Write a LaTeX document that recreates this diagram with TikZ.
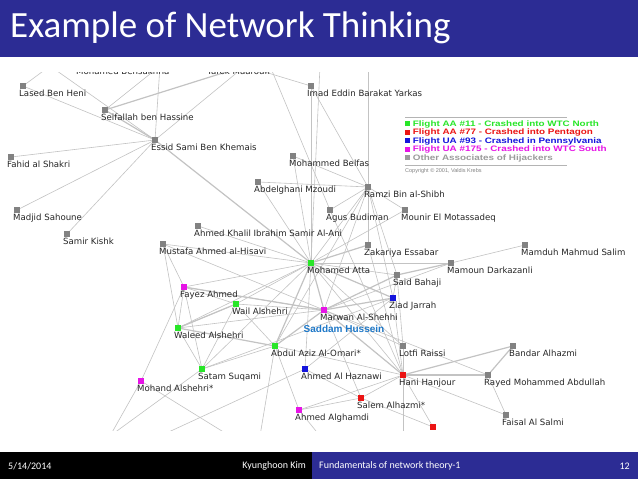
\documentclass[tikz,border=0pt]{standalone}
\usepackage{fontspec}
\setmainfont{Carlito}
\newfontfamily\vfont{DejaVu Sans}
\newfontfamily\lfont{Liberation Sans}
\newfontfamily\legfont[FakeStretch=1.25]{Liberation Sans}
\definecolor{slideblue}{RGB}{44,44,148}
\definecolor{gn}{RGB}{40,230,40}
\definecolor{rd}{RGB}{235,20,20}
\definecolor{bl}{RGB}{20,20,220}
\definecolor{mg}{RGB}{230,20,230}
\definecolor{gy}{RGB}{130,130,130}
\definecolor{edgegray}{RGB}{195,195,195}
\tikzset{
 sq/.style={rectangle,minimum size=6.5pt,inner sep=0pt,draw=none},
 lab/.style={font=\vfont\fontsize{8.6}{9}\selectfont,inner sep=0pt,anchor=north west,text=black!85},
 ed/.style={draw=edgegray,line width=0.6pt},
 edt/.style={draw=edgegray,line width=1.2pt},
 legt/.style={font=\legfont\bfseries\fontsize{7.9}{8}\selectfont,inner sep=0pt,anchor=west},
 foot/.style={text=white,font=\fontsize{10}{11}\selectfont,inner sep=0pt},
}
\newcommand{\hc}[3]{\coordinate (#1) at (#2,#3);}
\newcommand{\hn}[5]{\node[sq,fill=#4] (#1n) at (#2,#3) {};\node[lab] (#1-l) at (#2-4,#3+4) {#5};}
\begin{document}
\begin{tikzpicture}[x=1pt,y=-1pt]
\useasboundingbox (0,0) rectangle (638,479);
\fill[white] (0,0) rectangle (638,479);
% title
\fill[slideblue] (0,0) rectangle (638,57);
\node[anchor=west,text=white,font=\fontsize{37}{40}\selectfont,inner sep=0pt] (title) at (10,28) {Example of Network Thinking};
% footer
\fill[black] (0,452) rectangle (312,479);
\fill[slideblue] (312,452) rectangle (638,479);
\node[foot,anchor=west] (date) at (8,466) {5/14/2014};
\node[foot,anchor=east] (auth) at (306,466) {Kyunghoon Kim};
\node[foot,anchor=west] (course) at (319,466) {Fundamentals of network theory-1};
\node[foot,anchor=east] (pg) at (630,466) {12};
% network
\begin{scope}
\clip (0,72) rectangle (638,430);
\hc{ben}{160}{66}\hc{tar}{245}{66}\hc{t1}{50}{66}\hc{t2}{368}{66}\hc{t3}{320}{66}\hc{t4}{270}{66}
\hc{b1}{230}{436}\hc{b2}{160}{436}\hc{b3}{403}{436}\hc{b4}{260}{436}\hc{b5}{320}{436}\hc{b6}{110}{436}
\hc{lased}{23}{86}\hc{seif}{105}{110}\hc{essid}{155}{140}\hc{fahid}{11}{157}\hc{madjid}{17}{210}
\hc{samir}{67}{234}\hc{khalil}{198}{226}\hc{mustafa}{163}{244}\hc{abdel}{258}{182}\hc{belfas}{293}{156}
\hc{imad}{311}{86}\hc{ramzi}{368}{187}\hc{agus}{330}{210}\hc{mounir}{405}{210}\hc{zak}{368}{245}
\hc{mamduh}{525}{245}\hc{atta}{311}{263}\hc{mamoun}{451}{263}\hc{said}{397}{275}\hc{fayez}{184}{287}
\hc{ziad}{393}{298}\hc{wail}{236}{304}\hc{marwan}{324}{310}\hc{waleed}{178}{328}\hc{abdul}{275}{346}
\hc{lotfi}{403}{346}\hc{bandar}{513}{346}\hc{satam}{202}{369}\hc{haznawi}{305}{369}\hc{hani}{403}{375}
\hc{rayed}{488}{375}\hc{mohand}{141}{381}\hc{salem}{361}{398}\hc{alghamdi}{299}{410}\hc{faisal}{506}{415}
\hc{nawaf}{433}{427}
\foreach \a/\b in {essid/lased,essid/fahid,essid/madjid,essid/samir,essid/ben,essid/tar,essid/t1,lased/t1,seif/ben,imad/tar,imad/atta,imad/ramzi,belfas/ramzi,belfas/atta,abdel/atta,abdel/ramzi,t2/ramzi,t3/atta,t4/agus,ramzi/marwan,ramzi/ziad,ramzi/said,ramzi/zak,ramzi/agus,ramzi/mounir,ramzi/abdul,ramzi/atta,khalil/atta,mustafa/atta,mustafa/fayez,mustafa/waleed,mustafa/marwan,atta/said,atta/mamoun,atta/wail,atta/fayez,atta/waleed,atta/satam,atta/haznawi,atta/lotfi,atta/mounir,atta/hani,mamoun/mamduh,marwan/mamoun,marwan/wail,marwan/fayez,marwan/lotfi,marwan/rayed,marwan/waleed,marwan/salem,ziad/said,ziad/haznawi,ziad/satam,ziad/hani,waleed/wail,waleed/satam,waleed/fayez,fayez/satam,fayez/mohand,fayez/wail,satam/wail,satam/abdul,wail/abdul,hani/lotfi,hani/salem,hani/alghamdi,hani/nawaf,hani/b3,hani/faisal,hani/abdul,rayed/faisal,salem/alghamdi,salem/nawaf,salem/haznawi,mohand/b1,mohand/b6,abdul/b4,abdul/alghamdi,haznawi/b2,alghamdi/b5,satam/b6,zak/hani,said/lotfi,agus/hani}
  \draw[ed] (\a) -- (\b);
\foreach \a/\b in {essid/atta,essid/seif,seif/tar,atta/marwan,atta/ziad,atta/zak,atta/abdul,marwan/ziad,marwan/said,marwan/abdul,said/mamoun,hani/bandar,hani/rayed,rayed/bandar,marwan/hani,waleed/abdul,wail/waleed,fayez/marwan}
  \draw[edt] (\a) -- (\b);
\node[lab] (ben-l) at (76,68) {Mohamed Bensakhria};
\node[lab] (tar-l) at (207,68) {Tarek Maaroufi};
\hn{lased}{23}{86}{gy}{Lased Ben Heni}
\hn{seif}{105}{110}{gy}{Seifallah ben Hassine}
\hn{essid}{155}{140}{gy}{Essid Sami Ben Khemais}
\hn{fahid}{11}{157}{gy}{Fahid al Shakri}
\hn{madjid}{17}{210}{gy}{Madjid Sahoune}
\hn{samir}{67}{234}{gy}{Samir Kishk}
\hn{khalil}{198}{226}{gy}{Ahmed Khalil Ibrahim Samir Al-Ani}
\hn{mustafa}{163}{244}{gy}{Mustafa Ahmed al-Hisavi}
\hn{abdel}{258}{182}{gy}{Abdelghani Mzoudi}
\hn{belfas}{293}{156}{gy}{Mohammed Belfas}
\hn{imad}{311}{86}{gy}{Imad Eddin Barakat Yarkas}
\hn{ramzi}{368}{187}{gy}{Ramzi Bin al-Shibh}
\hn{agus}{330}{210}{gy}{Agus Budiman}
\hn{mounir}{405}{210}{gy}{Mounir El Motassadeq}
\hn{zak}{368}{245}{gy}{Zakariya Essabar}
\hn{mamduh}{525}{245}{gy}{Mamduh Mahmud Salim}
\hn{atta}{311}{263}{gn}{Mohamed Atta}
\hn{mamoun}{451}{263}{gy}{Mamoun Darkazanli}
\hn{said}{397}{275}{gy}{Said Bahaji}
\hn{fayez}{184}{287}{mg}{Fayez Ahmed}
\hn{ziad}{393}{298}{bl}{Ziad Jarrah}
\hn{wail}{236}{304}{gn}{Wail Alshehri}
\hn{marwan}{324}{310}{mg}{Marwan Al-Shehhi}
\hn{waleed}{178}{328}{gn}{Waleed Alshehri}
\hn{abdul}{275}{346}{gn}{Abdul Aziz Al-Omari*}
\hn{lotfi}{403}{346}{gy}{Lotfi Raissi}
\hn{bandar}{513}{346}{gy}{Bandar Alhazmi}
\hn{satam}{202}{369}{gn}{Satam Suqami}
\hn{haznawi}{305}{369}{bl}{Ahmed Al Haznawi}
\hn{hani}{403}{375}{rd}{Hani Hanjour}
\hn{rayed}{488}{375}{gy}{Rayed Mohammed Abdullah}
\hn{mohand}{141}{381}{mg}{Mohand Alshehri*}
\hn{salem}{361}{398}{rd}{Salem Alhazmi*}
\hn{alghamdi}{299}{410}{mg}{Ahmed Alghamdi}
\hn{faisal}{506}{415}{gy}{Faisal Al Salmi}
\node[sq,fill=rd] (nawafn) at (433,427) {};
\node[font=\lfont\bfseries\fontsize{10}{11}\selectfont,text={rgb,255:red,30;green,120;blue,200},inner sep=0pt] (saddam) at (344,329) {Saddam Hussein};
\end{scope}
% legend
\fill[white] (404,113) rectangle (572,174);
\draw[gy!60,line width=0.5pt] (405,117) -- (567,117);
\draw[gy!60,line width=0.5pt] (405,165) -- (567,165);
\node[legt,text=gn] (l1) at (405,124) {\rule{5pt}{5pt} Flight AA \#11 - Crashed into WTC North};
\node[legt,text=rd] (l2) at (405,132.5) {\rule{5pt}{5pt} Flight AA \#77 - Crashed into Pentagon};
\node[legt,text=bl] (l3) at (405,141) {\rule{5pt}{5pt} Flight UA \#93 - Crashed in Pennsylvania};
\node[legt,text=mg] (l4) at (405,149.5) {\rule{5pt}{5pt} Flight UA \#175 - Crashed into WTC South};
\node[legt,text=gy!80] (l5) at (405,158) {\rule{5pt}{5pt} Other Associates of Hijackers};
\node[anchor=west,inner sep=0pt,font=\lfont\fontsize{5.5}{6}\selectfont,text=gy] (copy) at (405,171) {Copyright \textcopyright{} 2001, Valdis Krebs};
\end{tikzpicture}
\end{document}
